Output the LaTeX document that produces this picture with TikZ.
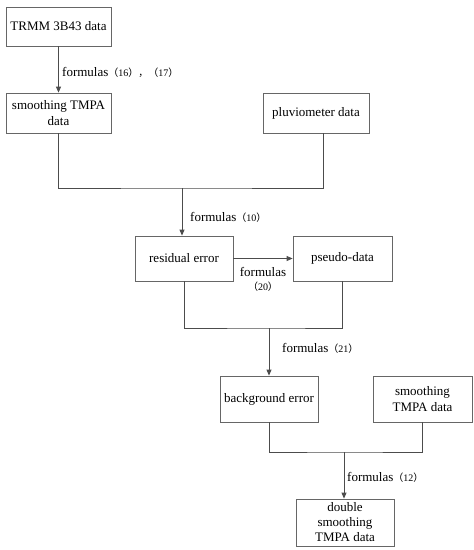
\documentclass[tikz,border=0pt]{standalone}
\usepackage{fontspec}
\setmainfont{Liberation Serif}
\newfontfamily\cjk{Noto Sans CJK SC}
\usetikzlibrary{arrows.meta}
\newcommand{\fno}[1]{{\cjk\fontsize{10}{11}\selectfont （}{\fontsize{10}{11}\selectfont #1}{\cjk\fontsize{10}{11}\selectfont ）}}
\tikzset{
  box/.style={draw=black!60, line width=0.8pt, align=center, inner sep=1pt,
    font=\fontsize{13}{16}\selectfont},
  link/.style={draw=black!70, line width=0.8pt},
  tip/.style={link, -{Triangle[length=6pt,width=5pt]}},
  lab/.style={font=\fontsize{13}{16}\selectfont, inner sep=0pt}
}
\begin{document}
\begin{tikzpicture}[x=1pt,y=-1pt]
  \useasboundingbox (0,0) rectangle (474,550);
  \draw
    (58.5,26.5) node[box, minimum width=105pt, minimum height=39pt] (0){TRMM 3B43 data}
    (58.5,113) node[box, minimum width=105pt, minimum height=40pt] (1){smoothing TMPA\\data}
    (316,113) node[box, minimum width=106pt, minimum height=40pt] (2){pluviometer data}
    (184,258.5) node[box, minimum width=98pt, minimum height=45pt] (3){residual error}
    (342.5,258.5) node[box, minimum width=99pt, minimum height=45pt] (4){pseudo-data}
    (269,399) node[box, minimum width=98pt, minimum height=46pt] (5){background error}
    (422.5,399) node[box, minimum width=99pt, minimum height=46pt] (6){smoothing\\TMPA data}
    (345,522.5) node[box, minimum width=98pt, minimum height=47pt, font=\fontsize{13}{15}\selectfont] (7){double\\smoothing\\TMPA data};
  \coordinate (j1) at (182,188);
  \coordinate (j2) at (269,328);
  \coordinate (j3) at (344,452);
  \begin{scope}
    \draw[tip] (0) -- (1);
    \draw[link] (1.south) |- (j1) -| ([xshift=7pt]2.south);
    \draw[tip] (j1) -- (j1 |- 3.north);
    \draw[tip] (3) -- (4);
    \draw[link] (3.south) |- (j2) -| (4.south);
    \draw[tip] (j2) -- (5);
    \draw[link] (5.south) |- (j3) -| (6.south);
    \draw[tip] (j3) -- (j3 |- 7.north);
  \end{scope}
  \node[lab, anchor=west] (l0) at (62,72) {formulas\fno{16}{\cjk\fontsize{10}{11}\selectfont ，}\fno{17}};
  \node[lab, anchor=west] (l1) at (190,217) {formulas\fno{10}};
  \node[lab, align=center] (l2) at (263,279.5) {formulas\\[-2pt]\fno{20}};
  \node[lab, anchor=west] (l3) at (282,348) {formulas\fno{21}};
  \node[lab, anchor=west] (l4) at (347,477) {formulas\fno{12}};
\end{tikzpicture}
\end{document}
